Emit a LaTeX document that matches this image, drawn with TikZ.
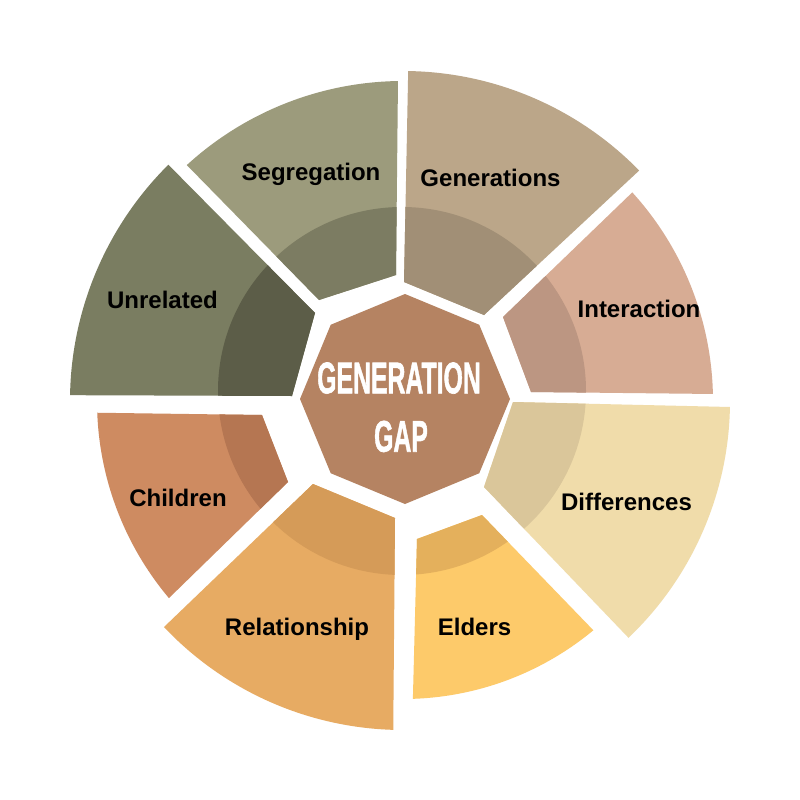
\documentclass[tikz,border=0pt]{standalone}
\usepackage{fontspec}
\usepackage{graphicx}
\setmainfont{Liberation Sans}
\newfontfamily\ttlfont{Liberation Sans}[BoldFeatures={FakeBold=1.6}]
\usetikzlibrary{calc}
\definecolor{segL}{HTML}{9C9B7C}\definecolor{segD}{HTML}{7C7C62}
\definecolor{unrL}{HTML}{7A7D61}\definecolor{unrD}{HTML}{5C5D48}
\definecolor{genL}{HTML}{BBA689}\definecolor{genD}{HTML}{A18F76}
\definecolor{intL}{HTML}{D7AC94}\definecolor{intD}{HTML}{BC9682}
\definecolor{difL}{HTML}{F0DCAA}\definecolor{difD}{HTML}{DAC69A}
\definecolor{eldL}{HTML}{FDCA6A}\definecolor{eldD}{HTML}{E4B05C}
\definecolor{relL}{HTML}{E7AB63}\definecolor{relD}{HTML}{D59B58}
\definecolor{chiL}{HTML}{CE8B61}\definecolor{chiD}{HTML}{B57652}
\definecolor{octC}{HTML}{B58362}
\newcommand{\wseg}[7]{%
  \fill[#6] #1 -- ($(C)+(#2:#4)$) arc[start angle=#2, end angle=#3, radius=#4] -- #5 -- cycle;
  \begin{scope}
    \clip #1 -- ($(C)+(#2:#4)$) arc[start angle=#2, end angle=#3, radius=#4] -- #5 -- cycle;
    \fill[#7] (D) circle[radius=184];
  \end{scope}}
\tikzset{
  lbl/.style={anchor=base, inner sep=0pt, text=black, font=\fontsize{24}{28}\selectfont\bfseries},
  ttl/.style={anchor=base, inner sep=0pt, text=white, font=\ttlfont\fontsize{44.3}{50}\selectfont\bfseries}
}
\begin{document}
\begin{tikzpicture}[x=1pt,y=-1pt]
\fill[white] (0,0) rectangle (800,800);
\useasboundingbox (0,0) rectangle (800,800);
\coordinate (C) at (403,401);
\coordinate (D) at (402,391);
\coordinate (O) at (405,399);
% segments
\wseg{(404,282)}{-89.1}{-44.3}{330}{(484,315)}{genL}{genD}
\wseg{(396,275)}{-90.9}{-132.5}{320}{(319,300)}{segL}{segD}
\wseg{(315,313)}{-134.8}{-179}{333}{(292,396)}{unrL}{unrD}
\wseg{(503,317)}{-42.3}{-1.3}{310}{(531,392)}{intL}{intD}
\wseg{(513,402)}{1.05}{46.4}{327}{(484,487)}{difL}{difD}
\wseg{(482,515)}{50.3}{88.1}{298}{(417,539)}{eldL}{eldD}
\wseg{(395,518)}{91.7}{136.6}{329}{(313,484)}{relL}{relD}
\wseg{(288,482)}{139.9}{177.8}{306}{(262,415)}{chiL}{chiD}
% central octagon
\fill[octC] ($(O)+(-90:105)$) -- ($(O)+(-45:105)$) -- ($(O)+(0:105)$) -- ($(O)+(45:105)$)
  -- ($(O)+(90:105)$) -- ($(O)+(135:105)$) -- ($(O)+(180:105)$) -- ($(O)+(225:105)$) -- cycle;
% labels
\node[lbl] (segregation) at (311,180.5) {Segregation};
\node[lbl] (generations) at (490.5,186.7) {Generations};
\node[lbl] (unrelated) at (162.5,308.3) {Unrelated};
\node[lbl] (interaction) at (639,317.3) {Interaction};
\node[lbl] (children) at (178,506.7) {Children};
\node[lbl] (differences) at (626.5,510) {Differences};
\node[lbl] (relationship) at (297,635) {Relationship};
\node[lbl] (elders) at (474.5,635) {Elders};
\node[ttl] (title1) at (399,393.3) {\scalebox{0.56}[1]{GENERATION}};
\node[ttl] (title2) at (401,451.7) {\scalebox{0.56}[1]{GAP}};
\end{tikzpicture}
\end{document}
